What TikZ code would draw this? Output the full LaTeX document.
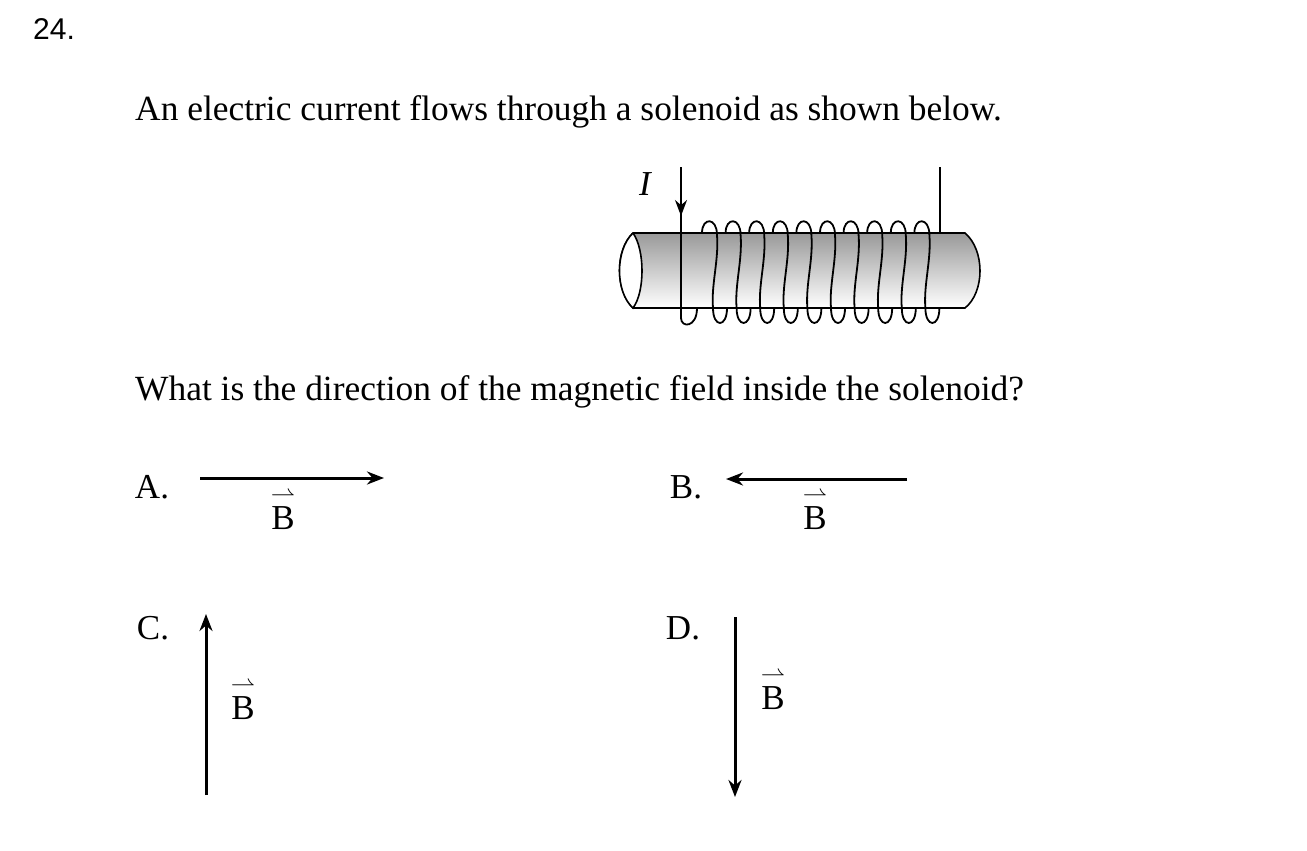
\documentclass[tikz,border=0pt]{standalone}
\usepackage{amsmath}
\usepackage{fontspec}
\setmainfont{Liberation Serif}
\newfontfamily\numfont{Liberation Sans}
\usetikzlibrary{arrows.meta}
\newcommand{\vB}{$\overset{\rightharpoonup}{\mathrm{B}}$}
\begin{document}
\begin{tikzpicture}[x=1pt,y=-1pt,
  txt/.style={anchor=base west,inner sep=0pt,font=\fontsize{35.4}{40}\selectfont},
  lbl/.style={inner sep=0pt,font=\fontsize{35}{40}\selectfont},
  barrow/.style={line width=3pt,-{Stealth[length=17pt,width=13pt]}},
  wire/.style={line width=1.8pt}]
\useasboundingbox (0,0) rectangle (1307,851);
\node[anchor=base west,inner sep=0pt,font=\numfont\fontsize{30}{34}\selectfont] (num) at (33,40) {24.};
\node[txt] (t1) at (135,120) {An electric current flows through a solenoid as shown below.};
\node[txt] (t2) at (135,400) {What is the direction of the magnetic field inside the solenoid?};
% solenoid tube
\shade[top color=gray!80,bottom color=white,draw=black,line width=1.6pt]
  (633,233) -- (965,233) .. controls (985,250) and (985,292) .. (965,308) -- (633,308)
  .. controls (615,290) and (615,250) .. (633,233) -- cycle;
\draw[line width=1.6pt,fill=white] (633,233) .. controls (615,250) and (615,292) .. (633,308)
  .. controls (645,292) and (645,250) .. (633,233);
\node[inner sep=0pt,font=\itshape\fontsize{35}{40}\selectfont] (I) at (645,184) {I};
% wires
\coordinate (wtop) at (681,167);
\coordinate (wright) at (940,167);
\draw[wire] (wtop) -- (681,318) .. controls (681,328) and (697,328) .. (697,308);
\draw[-{Stealth[length=16pt,width=12pt]},line width=1.8pt] (wtop) -- (681,216);
\draw[wire] (wright) -- (940,233);
\foreach \i in {0,...,9}{
  \pgfmathsetmacro{\a}{702+23.6*\i}
  \draw[wire] (\a,233) .. controls (\a,217) and (\a+15,217) .. (\a+15,235)
     .. controls (\a+17,260) and (\a+9,285) .. (\a+11,308)
     .. controls (\a+11,328) and (\a+25,328) .. (\a+25,308);
}
% options
\node[lbl] (A) at (152,487) {A.};
\coordinate (a1) at (200,478); \coordinate (a2) at (384,478);
\draw[barrow] (a1) -- (a2);
\node[lbl] (Ab) at (283,510) {\vB};
\node[lbl] (B) at (686,487) {B.};
\coordinate (b1) at (907,479); \coordinate (b2) at (726,479);
\draw[barrow] (b1) -- (b2);
\node[lbl] (Bb) at (815,510) {\vB};
\node[lbl] (C) at (153,628) {C.};
\coordinate (c1) at (206,795); \coordinate (c2) at (206,614);
\draw[barrow] (c1) -- (c2);
\node[lbl] (Cb) at (243,700) {\vB};
\node[lbl] (D) at (683,628) {D.};
\coordinate (d1) at (735,617); \coordinate (d2) at (735,797);
\draw[barrow] (d1) -- (d2);
\node[lbl] (Db) at (773,690) {\vB};
\end{tikzpicture}
\end{document}
